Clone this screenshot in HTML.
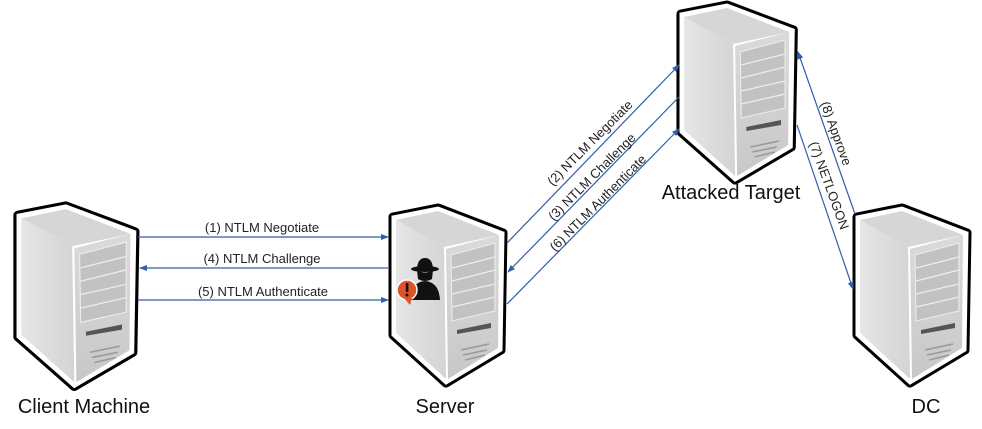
<!DOCTYPE html>
<html><head><meta charset="utf-8"><style>
html,body{margin:0;padding:0;background:#fff;}
svg{display:block;}
text{font-family:"Liberation Sans",sans-serif;}
</style></head><body>
<svg width="982" height="429" viewBox="0 0 982 429" xmlns="http://www.w3.org/2000/svg">
<defs>
<linearGradient id="lf" x1="0" y1="0" x2="1" y2="0"><stop offset="0" stop-color="#e6e6e6"/><stop offset="1" stop-color="#d4d4d4"/></linearGradient>
<linearGradient id="ff" x1="0" y1="0" x2="0" y2="1"><stop offset="0" stop-color="#dadada"/><stop offset="1" stop-color="#c8c8c8"/></linearGradient>
<marker id="ar" markerWidth="8" markerHeight="8" refX="7" refY="4" orient="auto" markerUnits="userSpaceOnUse"><path d="M0,1 L8,4 L0,7 Z" fill="#2f5fa8"/></marker>
<g id="srv">
  <polygon points="2,10 47,1 112,26 110,143 55,176 2,128" fill="#fff" stroke="#000" stroke-width="9" stroke-linejoin="round"/>
  <polygon points="2,10 47,1 112,26 110,143 55,176 2,128" fill="#fff" stroke="#fff" stroke-width="3"/>
  <polygon points="5,13 47,4 108,28 53,40" fill="#d6d6d6"/>
  <polygon points="5,13 53,40 55,172 5,126" fill="url(#lf)"/>
  <polygon points="55,42 108,28 107,141 57,172" fill="url(#ff)"/>
  <polygon points="60,48 104,36 104,104 61,114" fill="#c2c2c2" stroke="#eee" stroke-width="1"/>
  <g stroke="#eee" stroke-width="1.2">
    <line x1="61" y1="61" x2="104" y2="50"/><line x1="61" y1="74" x2="104" y2="63"/>
    <line x1="61" y1="87" x2="104" y2="77"/><line x1="61" y1="100" x2="104" y2="90"/>
  </g>
  <path d="M66,123 L100,116 L100,121 L66,127 Z" fill="#555"/>
  <g stroke="#999" stroke-width="1.5">
    <line x1="70" y1="143" x2="98" y2="137"/><line x1="72" y1="148" x2="96" y2="143"/><line x1="74" y1="153" x2="94" y2="148"/>
  </g>
</g>
</defs>

<use href="#srv" transform="translate(16,205) scale(1.06,1.03)"/>
<use href="#srv" transform="translate(391,207)"/>
<use href="#srv" transform="translate(679,4) scale(1.02,1.0)"/>
<use href="#srv" transform="translate(855,207)"/>

<g>
  <ellipse cx="425" cy="269" rx="14" ry="3" fill="#111"/>
  <path d="M417,268 Q418,258 425,258 Q432,258 433,268 Z" fill="#111"/>
  <path d="M417,270 Q425,275 433,270 L432,279 Q425,283 418,279 Z" fill="#111"/>
  <path d="M411,300 Q411,282 425,281 Q439,282 440,300 Z" fill="#111"/>
  <circle cx="407" cy="290" r="10" fill="#e0522a" stroke="#fff" stroke-width="1.5"/>
  <path d="M404,298 L412,298 L410,305 Z" fill="#e0522a"/>
  <rect x="405.8" y="283" width="2.6" height="9" fill="#111"/>
  <circle cx="407" cy="295" r="1.5" fill="#111"/>
</g>

<g stroke="#2f5fa8" stroke-width="1.2" fill="none">
  <line x1="138" y1="237" x2="388" y2="237" marker-end="url(#ar)"/>
  <line x1="388" y1="268" x2="140" y2="268" marker-end="url(#ar)"/>
  <line x1="138" y1="300" x2="388" y2="300" marker-end="url(#ar)"/>
  <line x1="507" y1="243" x2="679" y2="65" marker-end="url(#ar)"/>
  <line x1="679" y1="97" x2="508" y2="272" marker-end="url(#ar)"/>
  <line x1="507" y1="304" x2="679" y2="129" marker-end="url(#ar)"/>
  <line x1="855" y1="214" x2="798" y2="52" marker-end="url(#ar)"/>
  <line x1="797" y1="125" x2="853" y2="289" marker-end="url(#ar)"/>
</g>
<g font-size="13" fill="#222" text-anchor="middle">
  <text x="262" y="232">(1) NTLM Negotiate</text>
  <text x="262" y="263">(4) NTLM Challenge</text>
  <text x="263" y="296">(5) NTLM Authenticate</text>
  <text transform="translate(593,146) rotate(-45)">(2) NTLM Negotiate</text>
  <text transform="translate(595,180) rotate(-45)">(3) NTLM Challenge</text>
  <text transform="translate(601,206) rotate(-45)">(6) NTLM Authenticate</text>
  <text transform="translate(832,135) rotate(70)">(8) Approve</text>
  <text transform="translate(825,187) rotate(70)">(7) NETLOGON</text>
</g>
<g font-size="20" fill="#111" text-anchor="middle">
  <text x="84" y="413">Client Machine</text>
  <text x="445" y="413">Server</text>
  <text x="731" y="199">Attacked Target</text>
  <text x="926" y="413">DC</text>
</g>
</svg>
</body></html>
